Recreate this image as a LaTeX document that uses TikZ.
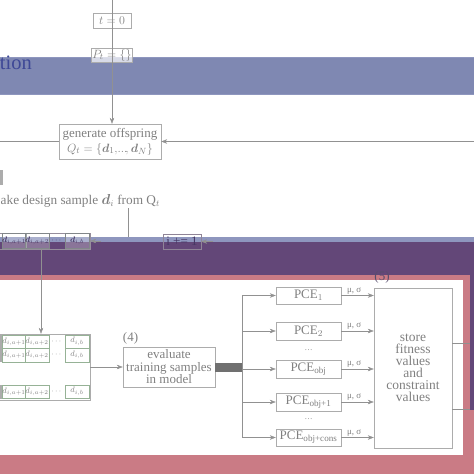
\documentclass[tikz,border=0pt]{standalone}
\usepackage{amsmath, amssymb}
\usepackage{fontspec}
\setmainfont{Liberation Serif}
\usetikzlibrary{arrows.meta, positioning}

\definecolor{txtgray}{RGB}{128,128,128}
\definecolor{boxgray}{RGB}{172,172,172}
\definecolor{linegray}{RGB}{145,145,145}
\definecolor{bargray}{RGB}{112,112,112}
\definecolor{cellgreen}{RGB}{150,178,150}
\definecolor{bandblue}{RGB}{127,136,178}
\definecolor{bandlight}{RGB}{142,150,190}
\definecolor{bandpurple}{RGB}{99,71,120}
\definecolor{bandpink}{RGB}{202,123,133}
\definecolor{titleblue}{RGB}{62,72,150}
\definecolor{darktxt}{RGB}{70,55,100}

\tikzset{
  box/.style={draw=boxgray, text=txtgray, align=center, inner sep=1pt,
    font=\fontsize{13}{12.5}\selectfont},
  cell/.style={draw=cellgreen, text=txtgray, inner sep=0pt,
    minimum height=13.5pt, font=\fontsize{8}{9}\selectfont},
  topcell/.style={draw=cellgreen!60!bandpurple, text=darktxt, inner sep=0pt,
    fill=white, fill opacity=0.25, text opacity=1,
    minimum height=15pt, font=\fontsize{8}{9}\selectfont},
  pce/.style={box, minimum width=65pt, minimum height=17.5pt},
  flow/.style={draw=linegray, -{Stealth[length=6pt, width=4.5pt]}},
  wire/.style={draw=linegray},
  tag/.style={text=txtgray, inner sep=0pt, font=\fontsize{13}{13}\selectfont},
  musig/.style={text=txtgray, inner sep=1pt, font=\fontsize{9}{9}\selectfont},
}

\begin{document}
\begin{tikzpicture}[x=1pt, y=-1pt]
    \useasboundingbox (0,0) rectangle (474,474);
    \clip (0,0) rectangle (474,474);
    % bands
    \fill[bandblue] (0,57) rectangle (474,95);
    \draw[bandlight] (0,57.5) -- (474,57.5) (0,94.5) -- (474,94.5);
    \fill[bandlight] (0,237) rectangle (474,242);
    \fill[bandpurple] (0,242) rectangle (474,275);
    \fill[bandpink] (0,275) rectangle (474,280);
    \fill[bandpink] (463,280) rectangle (474,474);
    \fill[bandpink] (0,455) rectangle (474,474);
    \fill[bandpurple] (470,275) rectangle (474,410);
    \node[anchor=base east, inner sep=0pt, text=titleblue,
        font=\fontsize{20.5}{20.5}\selectfont] (title) at (32,69) {tion};

    % initialisation
    \node[box, minimum width=38pt, minimum height=15pt] (t0) at (112,20.5) {$t = 0$};
    \node[box, fill=white, fill opacity=0.7, text opacity=1,
        minimum width=38pt, minimum height=14pt] (pt) at (112,55) {$P_t = \{\}$};
    \node[box, font=\fontsize{13}{15}\selectfont, minimum width=102pt,
        minimum height=35pt] (gen) at (110,141.5)
        {generate offspring\\ $Q_t = \{\boldsymbol{d}_1,\!...\!,\boldsymbol{d}_N\}$};
    \coordinate (topin) at (112,0);
    \draw[flow] (topin) -- (topin |- gen.north);
    \coordinate (genleft) at (0,141.5);
    \coordinate (genright) at (474,141.5);
    \draw[wire] (genleft) -- (gen.west);
    \draw[flow] (genright) -- (gen.east);

    % design sample
    \fill[boxgray] (-2,170) rectangle (3,185);
    \node[anchor=base west, inner sep=0pt, text=txtgray,
        font=\fontsize{13.3}{14}\selectfont] (take) at (0.5,204)
        {ake design sample $\boldsymbol{d}_i$ from Q$_t$};
    \coordinate (takeout) at (128,208);
    \coordinate (takeend) at (128,237);
    \draw[wire] (takeout) -- (takeend);

    % row in the band
    \node[draw=boxgray!70!bandpurple, minimum width=91pt, minimum height=16pt,
        inner sep=0pt] (rowtop) at (44.5,241) {};
    \node[topcell, minimum width=22pt] (top1) at (14,241) {$\boldsymbol{d}_{i,a+1}$};
    \node[topcell, minimum width=24pt] (top2) at (37,241) {$\boldsymbol{d}_{i,a+2}$};
    \node[text=darktxt, inner sep=0pt, font=\fontsize{8}{9}\selectfont] (topdots) at (57,241) {$\cdots$};
    \node[topcell, minimum width=24pt] (top3) at (77,241) {$\boldsymbol{d}_{i,b}$};
    \node[box, text=darktxt, draw=boxgray!60!bandpurple, minimum width=38pt,
        minimum height=15pt] (inc) at (182,241.5) {i += 1};
    \coordinate (rowin) at (101,241);
    \coordinate (incin) at (213,241.5);
    \draw[flow] (rowin) -- (rowtop.east);
    \draw[flow] (incin) -- (inc.east);

    % training samples
    \node[draw=boxgray, minimum width=91pt, minimum height=66pt,
        inner sep=0pt] (tab) at (44.5,367) {};
    \fill[boxgray] (-2,335) rectangle (3,362);
    \fill[boxgray] (-2,384.5) rectangle (3,398.5);
    \node[cell, minimum width=22pt] (a1) at (14,341.5) {$d_{i,a+1}$};
    \node[cell, minimum width=24pt] (a2) at (37,341.5) {$d_{i,a+2}$};
    \node[text=txtgray, font=\fontsize{8}{9}\selectfont] (adots) at (57,341.5) {$\cdots$};
    \node[cell, minimum width=24pt] (a3) at (77,341.5) {$d_{i,b}$};
    \node[cell, minimum width=22pt] (b1) at (14,355) {$d_{i,a+1}$};
    \node[cell, minimum width=24pt] (b2) at (37,355) {$d_{i,a+2}$};
    \node[text=txtgray, font=\fontsize{8}{9}\selectfont] (bdots) at (57,355) {$\cdots$};
    \node[cell, minimum width=24pt] (b3) at (77,355) {$d_{i,b}$};
    \node[cell, minimum width=22pt] (c1) at (14,391.5) {$d_{i,a+1}$};
    \node[cell, minimum width=24pt] (c2) at (37,391.5) {$d_{i,a+2}$};
    \node[text=txtgray, font=\fontsize{8}{9}\selectfont] (cdots) at (57,391.5) {$\cdots$};
    \node[cell, minimum width=24pt] (c3) at (77,391.5) {$d_{i,b}$};
    \draw[flow] ([xshift=4pt]top2.south) -- ([xshift=4pt]top2.south |- tab.north);

    % evaluation
    \node[box, minimum width=92pt, minimum height=40pt] (eval) at (169,367)
        {evaluate\\ training samples\\ in model};
    \node[tag] (tag4) at (130.5,338) {(4)};
    \draw[flow] (tab.east) -- (eval.west);
    \coordinate (split) at (242,367);
    \draw[bargray, line width=9pt] (eval.east) -- (split);

    % surrogate models
    \node[pce] (pce1) at (308.5,295.5) {PCE$_1$};
    \node[pce] (pce2) at (308.5,331) {PCE$_2$};
    \node[text=txtgray, font=\fontsize{8}{9}\selectfont] (pdotsa) at (308.5,350) {\ldots};
    \node[pce] (pceobj) at (308.5,369) {PCE$_{\text{obj}}$};
    \node[pce] (pceone) at (308.5,402) {PCE$_{\text{obj+1}}$};
    \node[text=txtgray, font=\fontsize{8}{9}\selectfont] (pdotsb) at (308.5,419) {\ldots};
    \node[pce] (pcecons) at (308.5,437.5) {PCE$_{\text{obj+cons}}$};
    \draw[wire] (split |- pce1.west) -- (split |- pcecons.west);
    \draw[flow] (split |- pce1.west) -- (pce1.west);
    \draw[flow] (split |- pce2.west) -- (pce2.west);
    \draw[flow] (split |- pceobj.west) -- (pceobj.west);
    \draw[flow] (split |- pceone.west) -- (pceone.west);
    \draw[flow] (split |- pcecons.west) -- (pcecons.west);

    % storage
    \node[box, font=\fontsize{13.5}{12}\selectfont, minimum width=78pt,
        minimum height=160pt] (store) at (413,368)
        {store\\ fitness\\ values\\ and\\ constraint\\ values};
    \node[tag, text=darktxt!70!txtgray] (tag5) at (382,277.5) {(5)};
    \draw[flow] (pce1.east) -- (pce1.east -| store.west) node[musig, pos=0.4, above] {μ, σ};
    \draw[flow] (pce2.east) -- (pce2.east -| store.west) node[musig, pos=0.4, above] {μ, σ};
    \draw[flow] (pceobj.east) -- (pceobj.east -| store.west) node[musig, pos=0.4, above] {μ, σ};
    \draw[flow] (pceone.east) -- (pceone.east -| store.west) node[musig, pos=0.4, above] {μ, σ};
    \draw[flow] (pcecons.east) -- (pcecons.east -| store.west) node[musig, pos=0.4, above] {μ, σ};
    \coordinate (outa) at (470,343);
    \coordinate (outb) at (470,409);
    \draw[wire] (store.east |- outa) -- (outa);
    \draw[wire] (store.east |- outb) -- (outb);
\end{tikzpicture}
\end{document}
